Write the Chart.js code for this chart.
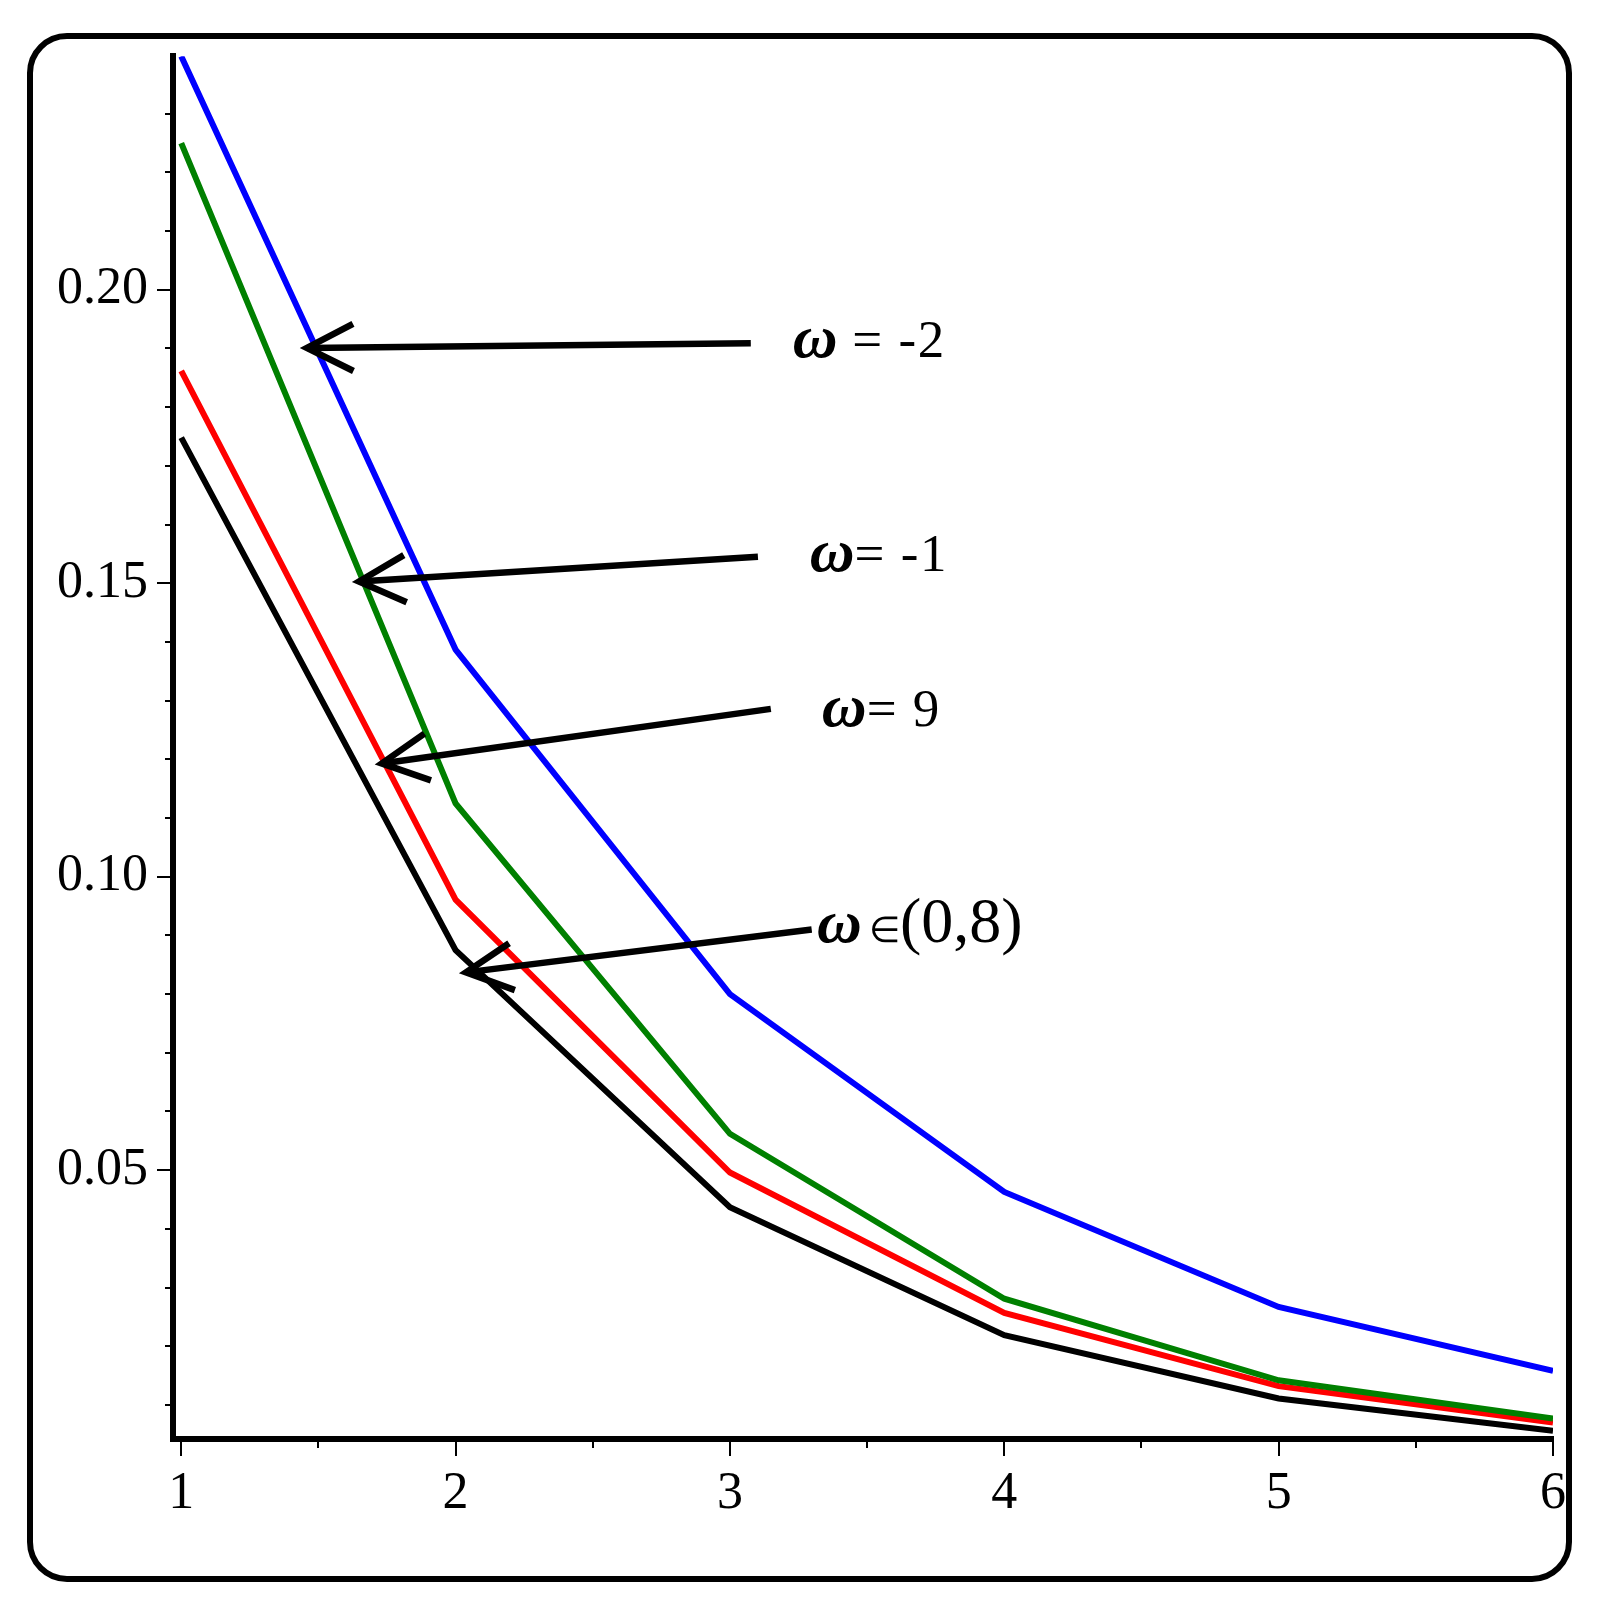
<!DOCTYPE html>
<html>
<head>
<meta charset="utf-8">
<script src="https://cdn.jsdelivr.net/npm/chart.js@4.4.0/dist/chart.umd.min.js"></script>
<style>
  html, body { margin: 0; padding: 0; background: #fff; }
  #wrap { width: 1598px; height: 1606px; }
</style>
</head>
<body>
<div id="wrap"><canvas id="chart" width="1598" height="1606"></canvas></div>
<script>
// data
const xValues = [1, 2, 3, 4, 5, 6];
const omegaMinus2 = [0.2398, 0.1387, 0.0800, 0.0463, 0.0267, 0.0158];
const omegaMinus1 = [0.2250, 0.1125, 0.0562, 0.0281, 0.0142, 0.0077];
const omega9 = [0.1862, 0.0961, 0.0496, 0.0257, 0.0132, 0.0070];
const omega0to8 = [0.1748, 0.0875, 0.0437, 0.0219, 0.0111, 0.0056];

// ticks
const xTicks = [1, 1.5, 2, 2.5, 3, 3.5, 4, 4.5, 5, 5.5, 6];
const xTickLabels = ['1', '2', '3', '4', '5', '6'];
const yTicks = [0.01, 0.02, 0.03, 0.04, 0.05, 0.06, 0.07, 0.08, 0.09, 0.10, 0.11, 0.12,
  0.13, 0.14, 0.15, 0.16, 0.17, 0.18, 0.19, 0.20, 0.21, 0.22, 0.23];
const yTickLabels = ['0.05', '0.10', '0.15', '0.20'];

// annotations, in data units
const arrowTips = [[1.458, 0.1901], [1.648, 0.1503], [1.731, 0.1193], [2.038, 0.0837]];
const arrowTails = [[3.076, 0.1909], [3.102, 0.1545], [3.149, 0.1286], [3.298, 0.0910]];
const labelAnchors = [[3.229, 0.1885], [3.291, 0.1521], [3.335, 0.1257], [3.317, 0.0888]];
const labelTexts = [
  ['ω', ' = -2'],
  ['ω', '= -1'],
  ['ω', '= 9'],
  ['ω', '\u2009∈', '(0,8)']
];

const SERIF = '"Liberation Serif", "Times New Roman", serif';
const segFont = function(i, j) {
  if (j === 0) return 'bold italic 62px ' + SERIF;
  if (i === 3 && j === 1) return '36px ' + SERIF;
  if (i === 3 && j === 2) return '64px ' + SERIF;
  return '53px ' + SERIF;
};

const extras = {
  id: 'extras',
  afterDraw(chart) {
    const ctx = chart.ctx;
    const xs = chart.scales.x, ys = chart.scales.y;
    const area = chart.chartArea;
    ctx.save();

    // rounded frame
    ctx.strokeStyle = '#000';
    ctx.lineWidth = 6;
    ctx.beginPath();
    ctx.roundRect(30, 36, 1539, 1543, 37);
    ctx.stroke();

    // corner of the axes
    ctx.fillStyle = '#000';
    ctx.fillRect(area.left - 3, area.bottom - 3, 6, 6);

    // tick marks
    ctx.lineWidth = 2;
    ctx.beginPath();
    xTicks.forEach(function(v) {
      const px = Math.round(xs.getPixelForValue(v));
      const len = Number.isInteger(v) ? 17 : 9;
      ctx.moveTo(px, area.bottom);
      ctx.lineTo(px, area.bottom + len);
    });
    yTicks.forEach(function(v) {
      const py = Math.round(ys.getPixelForValue(v));
      const len = yTickLabels.includes(v.toFixed(2)) ? 16 : 8;
      ctx.moveTo(area.left, py);
      ctx.lineTo(area.left - len, py);
    });
    ctx.stroke();

    // arrows
    ctx.lineWidth = 6.5;
    ctx.lineCap = 'butt';
    ctx.lineJoin = 'miter';
    arrowTips.forEach(function(tip, i) {
      const tx = xs.getPixelForValue(tip[0]), ty = ys.getPixelForValue(tip[1]);
      const ex = xs.getPixelForValue(arrowTails[i][0]), ey = ys.getPixelForValue(arrowTails[i][1]);
      const ang = Math.atan2(ey - ty, ex - tx);
      const head = 52, spread = 27 * Math.PI / 180;
      ctx.beginPath();
      ctx.moveTo(ex, ey);
      ctx.lineTo(tx, ty);
      ctx.stroke();
      ctx.beginPath();
      ctx.moveTo(tx + head * Math.cos(ang - spread), ty + head * Math.sin(ang - spread));
      ctx.lineTo(tx, ty);
      ctx.lineTo(tx + head * Math.cos(ang + spread), ty + head * Math.sin(ang + spread));
      ctx.stroke();
    });

    // labels
    ctx.textBaseline = 'alphabetic';
    ctx.textAlign = 'left';
    labelTexts.forEach(function(parts, i) {
      let x = xs.getPixelForValue(labelAnchors[i][0]);
      const y = ys.getPixelForValue(labelAnchors[i][1]);
      parts.forEach(function(p, j) {
        ctx.font = segFont(i, j);
        ctx.letterSpacing = (j > 0 && i < 3) ? '1.5px' : '0px';
        ctx.fillText(p, x, y);
        x += ctx.measureText(p).width;
      });
    });
    ctx.restore();
  }
};

Chart.defaults.font.family = SERIF;
Chart.defaults.color = '#000';

const mkSet = function(data, color) {
  return {
    data: xValues.map(function(x, i) { return { x: x, y: data[i] }; }),
    borderColor: color,
    borderWidth: 6,
    pointRadius: 0,
    tension: 0,
    fill: false
  };
};

new Chart(document.getElementById('chart').getContext('2d'), {
  type: 'line',
  data: {
    datasets: [
      mkSet(omegaMinus2, '#0000ff'),
      mkSet(omegaMinus1, '#008000'),
      mkSet(omega9, '#ff0000'),
      mkSet(omega0to8, '#000000')
    ]
  },
  options: {
    responsive: false,
    animation: false,
    devicePixelRatio: 1,
    layout: { padding: { top: 48, right: 45, bottom: 0, left: 0 } },
    plugins: { legend: { display: false }, tooltip: { enabled: false } },
    scales: {
      x: {
        type: 'linear',
        min: 0.97,
        max: 6,
        afterBuildTicks: function(s) { s.ticks = xTicks.map(function(v) { return { value: v }; }); },
        afterFit: function(s) { s.height = 167; },
        grid: { display: false, drawTicks: false },
        border: { display: true, color: '#000', width: 6 },
        ticks: {
          autoSkip: false,
          maxRotation: 0,
          padding: 24,
          font: { size: 52, lineHeight: 1.2 },
          callback: function(v) { return xTickLabels.includes(String(v)) ? String(v) : ''; }
        }
      },
      y: {
        type: 'linear',
        min: 0.0042,
        max: 0.2398,
        afterBuildTicks: function(s) { s.ticks = yTicks.map(function(v) { return { value: v }; }); },
        afterFit: function(s) { s.width = 173; },
        grid: { display: false, drawTicks: false },
        border: { display: true, color: '#000', width: 6 },
        ticks: {
          autoSkip: false,
          padding: 25,
          font: { size: 52, lineHeight: 1.2 },
          callback: function(v) {
            const s = Number(v).toFixed(2);
            return yTickLabels.includes(s) ? s : '';
          }
        }
      }
    }
  },
  plugins: [extras]
});
</script>
</body>
</html>
